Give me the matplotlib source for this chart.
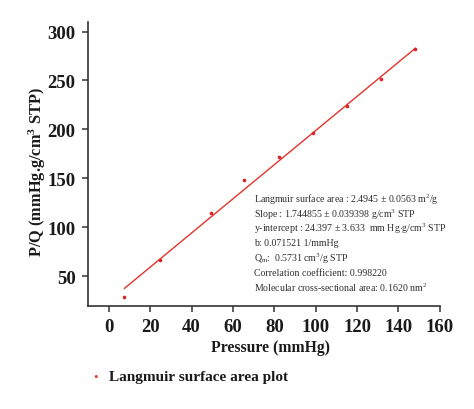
import matplotlib
matplotlib.use("Agg")
import matplotlib.pyplot as plt
import numpy as np

pressure = [7.6, 24.6, 49.2, 65.6, 82.4, 98.6, 115.3, 131.4, 148.1]
pq = [28.5, 67.1, 115.0, 148.4, 171.5, 196.0, 224.3, 251.0, 281.7]
slope = 1.744855
intercept = 24.397
xticks = [0, 20, 40, 60, 80, 100, 120, 140, 160]
yticks = [50, 100, 150, 200, 250, 300]
info_lines = [
    r"Langmuir surface area : 2.4945 $\pm$ 0.0563 m$^2$/g",
    r"Slope : 1.744855 $\pm$ 0.039398 g/cm$^3$ STP",
    r"y-intercept : 24.397 $\pm$ 3.633  mm Hg$\cdot$g/cm$^3$ STP",
    r"b: 0.071521 1/mmHg",
    r"Q$_{\rm m}$:  0.5731 cm$^3$/g STP",
    r"Correlation coefficient: 0.998220",
    r"Molecular cross-sectional area: 0.1620 nm$^2$",
]

plt.rcParams['font.family'] = ['Liberation Serif', 'DejaVu Serif']
plt.rcParams['mathtext.fontset'] = 'custom'
plt.rcParams['mathtext.rm'] = 'Liberation Serif'
plt.rcParams['mathtext.it'] = 'Liberation Serif:italic'
plt.rcParams['mathtext.bf'] = 'Liberation Serif:bold'

red = '#e0352b'
fig = plt.figure(figsize=(4.74, 4.10), dpi=100)
ax = fig.add_axes([0.1857, 0.252, 0.928 - 0.1857, 0.9446 - 0.252])

xs = np.array([pressure[0], pressure[-1]])
ax.plot(xs, intercept + slope * xs, color=red, lw=1.0, zorder=2)
ax.scatter(pressure, pq, s=7, color='#d9262b', zorder=3, linewidths=0)

ax.set_xlim(-10, 160)
ax.set_ylim(20, 310)
ax.set_xticks(xticks)
ax.set_yticks(yticks)
for s in ['top', 'right']:
    ax.spines[s].set_visible(False)
for s in ['left', 'bottom']:
    ax.spines[s].set_color('#333333')
    ax.spines[s].set_linewidth(1.2)
ax.tick_params(direction='out', length=4, width=1.1, color='#333333', labelsize=13.5, pad=5)
for lab in ax.get_xticklabels() + ax.get_yticklabels():
    lab.set_fontweight('bold')
    lab.set_color('#1a1a1a')

ax.set_xlabel('Pressure (mmHg)', fontsize=11.3, fontweight='bold', color='#1a1a1a')
ax.set_ylabel(r'P/Q (mmHg.g/cm$^\mathbf{3}$ STP)', fontsize=11.8, fontweight='bold', color='#1a1a1a')
ax.xaxis.set_label_coords(0.518, -0.118)
ax.yaxis.set_label_coords(-0.115, 0.475)

y0 = 200
for i, line in enumerate(info_lines):
    fig.text(254 / 474, 1 - (y0 + i * 14.6) / 410, line, fontsize=7.1, color='#2e2e2e',
             ha='left', va='center')

fig.text(96 / 474, 1 - 378 / 410, '•', color=red, fontsize=9, ha='center', va='center')
fig.text(109 / 474, 1 - 378 / 410, 'Langmuir surface area plot', fontsize=11, fontweight='bold',
         color='#1a1a1a', ha='left', va='center')

fig.savefig('out.png', dpi=100)
